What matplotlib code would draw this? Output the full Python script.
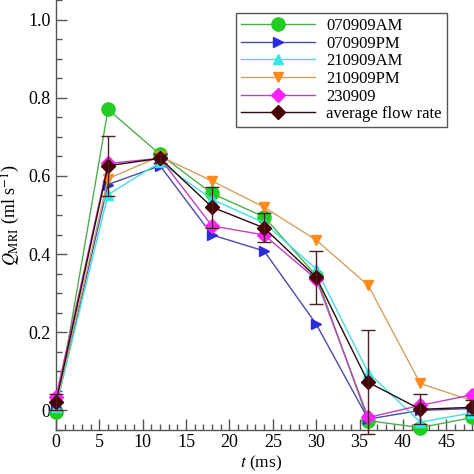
import matplotlib
matplotlib.use('Agg')
import matplotlib.pyplot as plt
from matplotlib.ticker import MultipleLocator, FixedLocator, FixedFormatter

plt.rcParams['font.family'] = ['Liberation Serif', 'DejaVu Serif']
plt.rcParams['mathtext.fontset'] = 'stix'

# 时间点 (ms)
t_ms = [0, 6, 12, 18, 24, 30, 36, 42, 48]

# 各次测量的流量 (ml/s)
q_070909am = [-0.005, 0.77, 0.655, 0.555, 0.495, 0.345, -0.026, -0.044, -0.018]
q_070909pm = [0.01, 0.578, 0.626, 0.449, 0.408, 0.221, -0.022, 0.0, 0.005]
q_210909am = [0.01, 0.552, 0.635, 0.54, 0.48, 0.362, 0.097, -0.03, -0.006]
q_210909pm = [0.015, 0.593, 0.65, 0.587, 0.52, 0.436, 0.32, 0.069, 0.025]
q_230909 = [0.035, 0.632, 0.645, 0.472, 0.449, 0.336, -0.018, 0.013, 0.04]
q_average = [0.021, 0.626, 0.645, 0.52, 0.467, 0.341, 0.072, 0.003, 0.008]
q_err = [0.02, 0.077, 0.012, 0.052, 0.037, 0.068, 0.133, 0.038, 0.02]

labels = ['070909AM', '070909PM', '210909AM', '210909PM', '230909', 'average flow rate']
y_ticks = [0, 0.2, 0.4, 0.6, 0.8, 1.0]
y_tick_labels = ['0', '0.2', '0.4', '0.6', '0.8', '1.0']

styles = [
    dict(color='#4caf4c', marker='o', mfc='#22cc22', mec='#22cc22', ms=9.5),
    dict(color='#4a4aa8', marker='>', mfc='#2b2bdd', mec='#2b2bdd', ms=7.5),
    dict(color='#40e0e0', marker='^', mfc='#30eaea', mec='#30eaea', ms=7.5),
    dict(color='#d4a060', marker='v', mfc='#ff8a1a', mec='#ff8a1a', ms=7.5),
    dict(color='#c040c0', marker='D', mfc='#ff22ff', mec='#ff22ff', ms=7),
    dict(color='#2a0a0a', marker='D', mfc='#4a0000', mec='#4a0000', ms=7),
]

fig = plt.figure(figsize=(4.74, 4.74), dpi=100)
ax = fig.add_axes([56 / 474, 44 / 474, 418 / 474, 430 / 474])

series = [q_070909am, q_070909pm, q_210909am, q_210909pm, q_230909, q_average]
for i, (vals, st, lab) in enumerate(zip(series, styles, labels)):
    if i == 5:
        ax.errorbar(t_ms, vals, yerr=q_err, fmt='none', ecolor='#4a2020',
                    elinewidth=1.0, capsize=5, capthick=1.0, zorder=9, clip_on=False)
    ax.plot(t_ms, vals, label=lab, lw=1.0, zorder=3 + i, clip_on=False, **st)

ax.set_xlim(0, 48.2)
ax.set_ylim(-0.05, 1.05)

ax.xaxis.set_major_locator(MultipleLocator(5))
ax.xaxis.set_minor_locator(MultipleLocator(1))
ax.yaxis.set_major_locator(FixedLocator(y_ticks))
ax.yaxis.set_major_formatter(FixedFormatter(y_tick_labels))
ax.yaxis.set_minor_locator(MultipleLocator(0.05))

for s in ['top', 'right']:
    ax.spines[s].set_visible(False)
for s in ['left', 'bottom']:
    ax.spines[s].set_color('#555555')
    ax.spines[s].set_linewidth(1.0)

ax.tick_params(which='both', direction='in', colors='#555555', labelcolor='black',
               labelsize=13)
ax.tick_params(which='major', length=8, width=1.0)
ax.tick_params(which='minor', length=4, width=1.0)
ax.tick_params(axis='y', which='major', pad=4)
ax.tick_params(axis='x', which='major', pad=3)

ax.set_xlabel('$t$ (ms)', fontsize=12.5)
ax.set_ylabel('$Q_{\\mathrm{MRI}}$ (ml s$^{-1}$)', fontsize=13)
ax.yaxis.set_label_coords(-0.082, 0.5)
ax.xaxis.set_label_coords(0.49, -0.056)

leg = ax.legend(loc='upper right', bbox_to_anchor=(0.935, 0.97), borderaxespad=0,
                fontsize=12, handlelength=4.4, handletextpad=0.7,
                labelspacing=0.1, borderpad=0.3, fancybox=False, framealpha=1)
leg.get_frame().set_edgecolor('#555555')
leg.get_frame().set_linewidth(1.0)

plt.savefig('out.png', dpi=100)
